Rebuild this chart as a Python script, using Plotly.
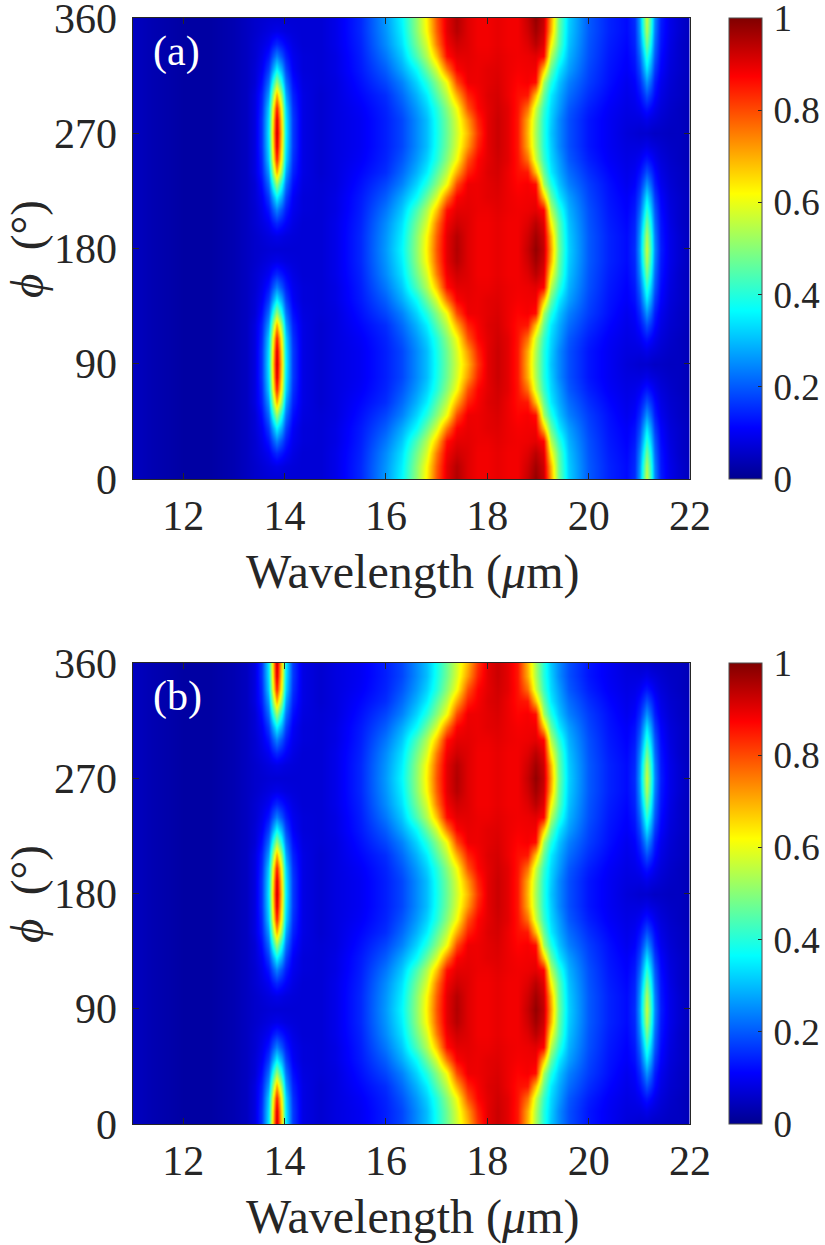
import plotly.graph_objects as go

# Wavelength samples (um), denser around the narrow resonances at 13.85 and 21.15
wavelength = [
    11, 11.4, 12, 12.5, 13, 13.25,
    13.4, 13.55, 13.68, 13.77, 13.85, 13.93, 14.02, 14.15, 14.35,
    14.7, 15, 15.5, 16, 16.3, 16.6, 16.8, 17, 17.2, 17.4, 17.6, 17.8, 18, 18.2,
    18.4, 18.6, 18.8, 18.95, 19.1, 19.25, 19.4, 19.6, 20, 20.4,
    20.75, 20.9, 21, 21.08, 21.15, 21.22, 21.3, 21.42, 21.6, 21.8, 22,
]

# Absorption per azimuth; each list follows the wavelength samples above
phi_00 = [.05, .035, .02, .02, .035, .05,
          .06, .065, .07, .07, .07, .07, .07, .07, .07,
          .07, .09, .15, .265, .36, .51, .63, .79, .90, .95, .905, .885, .885, .895,
          .885, .885, .93, .98, .93, .72, .48, .32, .20, .145,
          .12, .155, .27, .44, .57, .43, .25, .14, .09, .065, .045]
phi_10 = [.05, .035, .02, .02, .035, .05,
          .06, .07, .08, .085, .09, .085, .08, .075, .07,
          .07, .09, .15, .26, .35, .505, .62, .78, .90, .945, .905, .885, .885, .895,
          .885, .885, .92, .965, .92, .70, .47, .315, .20, .145,
          .12, .15, .26, .42, .54, .41, .24, .135, .09, .065, .045]
phi_20 = [.05, .035, .02, .02, .035, .05,
          .065, .08, .10, .13, .15, .13, .11, .085, .07,
          .07, .09, .145, .25, .335, .48, .58, .75, .885, .92, .905, .885, .885, .895,
          .885, .885, .905, .94, .90, .63, .455, .305, .195, .14,
          .115, .145, .24, .37, .48, .37, .22, .13, .085, .06, .045]
phi_30 = [.05, .035, .02, .02, .035, .05,
          .065, .09, .13, .19, .24, .19, .14, .095, .075,
          .07, .085, .14, .23, .31, .44, .54, .68, .86, .90, .90, .89, .89, .90,
          .89, .885, .89, .90, .87, .55, .41, .29, .19, .135,
          .11, .135, .21, .32, .41, .32, .20, .12, .08, .06, .045]
phi_40 = [.05, .035, .02, .02, .035, .05,
          .07, .10, .17, .27, .36, .28, .18, .105, .075,
          .07, .085, .135, .205, .28, .37, .47, .58, .75, .875, .895, .89, .90, .905,
          .89, .88, .885, .885, .68, .47, .35, .27, .18, .13,
          .105, .125, .18, .27, .34, .27, .17, .11, .075, .06, .045]
phi_50 = [.05, .035, .02, .02, .035, .05,
          .07, .12, .22, .38, .52, .38, .23, .125, .08,
          .07, .08, .125, .18, .24, .325, .40, .50, .61, .80, .89, .89, .90, .91,
          .89, .87, .88, .86, .53, .40, .31, .24, .17, .125,
          .095, .11, .15, .21, .26, .21, .14, .095, .07, .055, .045]
phi_60 = [.05, .035, .02, .02, .035, .05,
          .08, .14, .27, .50, .70, .51, .28, .145, .085,
          .065, .08, .115, .155, .215, .29, .35, .45, .55, .70, .84, .88, .905, .915,
          .89, .86, .85, .68, .47, .35, .285, .22, .155, .115,
          .09, .10, .125, .16, .19, .16, .12, .085, .065, .055, .04]
phi_70 = [.05, .035, .02, .02, .035, .05,
          .08, .15, .32, .59, .84, .60, .33, .16, .085,
          .065, .08, .105, .145, .195, .265, .32, .40, .50, .61, .79, .87, .90, .92,
          .90, .855, .76, .57, .42, .33, .27, .20, .14, .105,
          .085, .09, .10, .12, .13, .115, .095, .075, .06, .05, .04]
phi_80 = [.05, .035, .02, .02, .035, .05,
          .08, .16, .34, .63, .91, .64, .35, .17, .085,
          .065, .08, .10, .14, .18, .25, .30, .385, .475, .58, .72, .84, .90, .925,
          .90, .85, .70, .54, .40, .32, .25, .19, .13, .10,
          .08, .08, .08, .085, .09, .08, .075, .065, .055, .05, .04]
phi_90 = [.05, .035, .02, .02, .035, .05,
          .08, .16, .35, .65, .93, .66, .36, .17, .085,
          .065, .08, .10, .14, .18, .25, .30, .38, .47, .57, .69, .82, .90, .925,
          .90, .85, .69, .53, .40, .31, .25, .19, .13, .10,
          .075, .07, .065, .065, .065, .06, .055, .055, .05, .05, .04]

# One full period of the response, repeated twice over 0-360 degrees
half_period = [phi_00, phi_10, phi_20, phi_30, phi_40, phi_50, phi_60, phi_70, phi_80, phi_90,
               phi_80, phi_70, phi_60, phi_50, phi_40, phi_30, phi_20, phi_10]
phi = list(range(0, 370, 10))
z_a = half_period + half_period + [phi_00]
# Panel (b) is the same response rotated by a quarter turn
z_b = z_a[9:] + z_a[1:10]

x_ticks = [12, 14, 16, 18, 20, 22]
phi_ticks = [0, 90, 180, 270, 360]
bar_ticks = [0, 0.2, 0.4, 0.6, 0.8, 1]
# Hair space keeps the bar labels clear of the ticks
bar_labels = ["\u200a0", "\u200a0.2", "\u200a0.4", "\u200a0.6", "\u200a0.8", "\u200a1"]

# MATLAB-style jet
jet = [
    [0.0, "#00008f"], [0.111, "#0000ff"], [0.365, "#00ffff"],
    [0.619, "#ffff00"], [0.873, "#ff0000"], [1.0, "#800000"],
]

W, H = 825, 1245
INK = "#262626"
FONT = "Liberation Serif"
LEFT, RIGHT = 132.5, 690
PANELS = [(18, 479), (663, 1124)]

fig = go.Figure()

for i, (z, (top, bottom), tag) in enumerate(zip([z_a, z_b], PANELS, ["(a)", "(b)"])):
    suffix = "" if i == 0 else "2"
    fig.add_trace(go.Heatmap(
        x=wavelength, y=phi, z=z, zmin=0, zmax=1, zsmooth="best",
        colorscale=jet, xaxis="x" + suffix, yaxis="y" + suffix,
        colorbar=dict(
            x=729 / W, xanchor="left", xpad=0,
            y=1 - bottom / H, yanchor="bottom", ypad=0,
            len=(bottom - top) / H, lenmode="fraction",
            thickness=33, thicknessmode="pixels",
            outlinewidth=1, outlinecolor="#4d4d4d",
            tickmode="array", tickvals=bar_ticks, ticktext=bar_labels,
            ticks="inside", ticklen=4, tickwidth=1, tickcolor=INK,
            ticklabeloverflow="allow",
            tickfont=dict(family=FONT, size=37, color=INK),
        ),
    ))
    shared = dict(showgrid=False, zeroline=False, showline=True, linecolor=INK,
                  linewidth=1, ticks="inside", ticklen=6, tickwidth=1, tickcolor=INK,
                  mirror="ticks", automargin=False, tickmode="array",
                  ticklabeloverflow="allow")
    fig.update_layout({
        "xaxis" + suffix: dict(
            domain=[LEFT / W, RIGHT / W], range=[11, 22], anchor="y" + suffix,
            tickvals=x_ticks, **shared,
            tickfont=dict(family=FONT, size=42, color=INK),
        ),
        "yaxis" + suffix: dict(
            domain=[1 - bottom / H, 1 - top / H], range=[0, 360], anchor="x" + suffix,
            tickvals=phi_ticks, ticklabelstandoff=6, **shared,
            tickfont=dict(family=FONT, size=42, color=INK),
        ),
    })
    # Panel tag and axis labels, placed in page coordinates
    fig.add_annotation(
        text=tag, xref="paper", yref="paper", x=151 / W, y=1 - (top + 33) / H,
        xanchor="left", yanchor="middle", showarrow=False,
        font=dict(family=FONT, size=42, color="white"),
    )
    fig.add_annotation(
        text="Wavelength (<i>μ</i>m)", xref="paper", yref="paper",
        x=412 / W, y=1 - (bottom + 93) / H, xanchor="center", yanchor="middle",
        showarrow=False, font=dict(family=FONT, size=48, color=INK),
    )
    fig.add_annotation(
        text="<i>ϕ</i>\u00a0\u00a0(°)", xref="paper", yref="paper", textangle=-90,
        x=27 / W, y=1 - (top + 231) / H, xanchor="center", yanchor="middle",
        showarrow=False, font=dict(family=FONT, size=47, color=INK),
    )

fig.update_layout(
    width=W, height=H, margin=dict(l=0, r=0, t=0, b=0),
    paper_bgcolor="white", plot_bgcolor="white", showlegend=False,
)

fig.write_html("out.html")
